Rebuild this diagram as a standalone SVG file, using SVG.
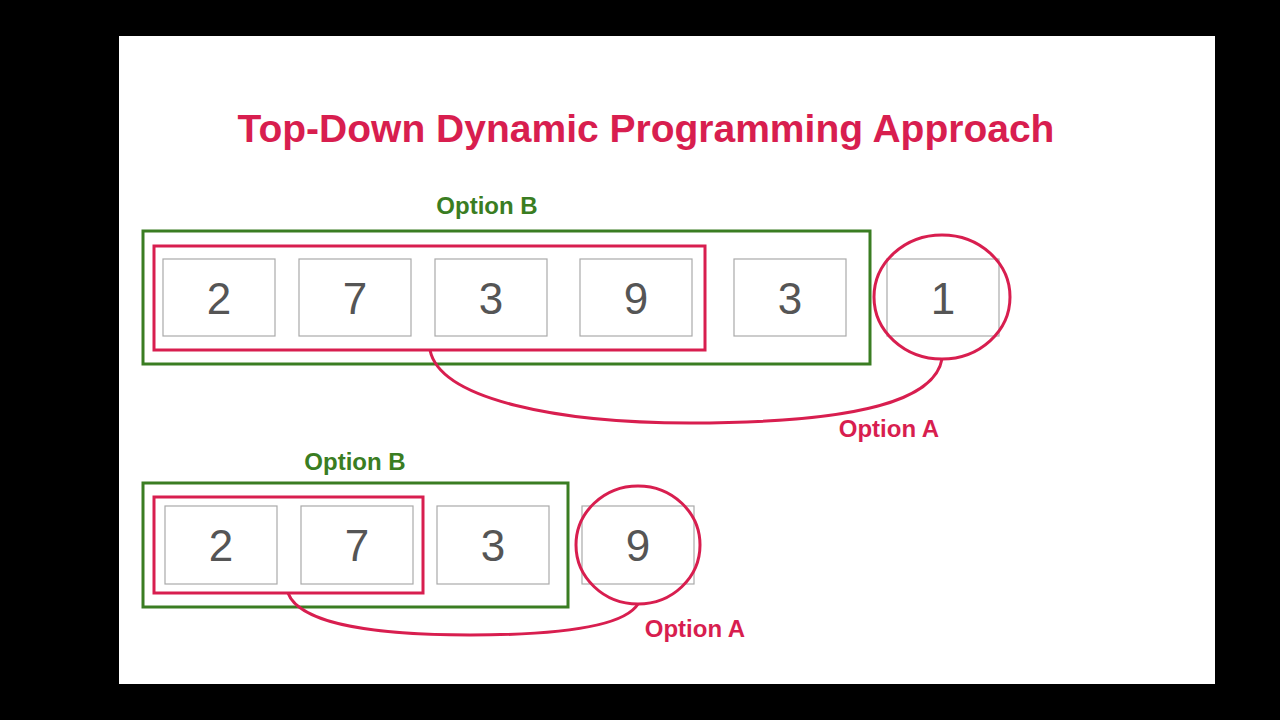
<svg xmlns="http://www.w3.org/2000/svg" width="1280" height="720" viewBox="0 0 1280 720">
<style>
.box{fill:none;stroke:#aaa;stroke-width:1.2}
.num{font-family:"Liberation Sans",Arial,sans-serif;font-size:44px;fill:#555;text-anchor:middle}
.g{fill:none;stroke:#3a7d22;stroke-width:3}
.r{fill:none;stroke:#d81e4f;stroke-width:3}
.lg{font-family:"Liberation Sans",Arial,sans-serif;font-weight:bold;font-size:24px;fill:#3a7d22;text-anchor:middle}
.lr{font-family:"Liberation Sans",Arial,sans-serif;font-weight:bold;font-size:24px;fill:#d81e4f;text-anchor:middle}
</style>
<rect width="1280" height="720" fill="#000"/>
<rect x="119" y="36" width="1096" height="648" fill="#fff"/>
<text x="646" y="142" font-family="Liberation Sans,Arial,sans-serif" font-weight="bold" font-size="39" fill="#d81e4f" text-anchor="middle">Top-Down Dynamic Programming Approach</text>
<g id="top">
<rect class="g" x="143" y="231" width="727" height="133"/>
<rect class="r" x="154" y="246" width="551" height="104"/>
<g id="t1"><rect class="box" x="163" y="259" width="112" height="77"/><text class="num" x="219" y="314">2</text></g>
<g id="t2"><rect class="box" x="299" y="259" width="112" height="77"/><text class="num" x="355" y="314">7</text></g>
<g id="t3"><rect class="box" x="435" y="259" width="112" height="77"/><text class="num" x="491" y="314">3</text></g>
<g id="t4"><rect class="box" x="580" y="259" width="112" height="77"/><text class="num" x="636" y="314">9</text></g>
<g id="t5"><rect class="box" x="734" y="259" width="112" height="77"/><text class="num" x="790" y="314">3</text></g>
<g id="t6"><rect class="box" x="887" y="259" width="112" height="77"/><text class="num" x="943" y="314">1</text></g>
<ellipse class="r" cx="942" cy="297" rx="68" ry="62"/>
<text class="lg" x="487" y="214">Option B</text>
<text class="lr" x="889" y="437">Option A</text>
</g>
<g id="bottom">
<rect class="g" x="143" y="483" width="425" height="124"/>
<rect class="r" x="154" y="497" width="269" height="96"/>
<g id="b1"><rect class="box" x="165" y="506" width="112" height="78"/><text class="num" x="221" y="561">2</text></g>
<g id="b2"><rect class="box" x="301" y="506" width="112" height="78"/><text class="num" x="357" y="561">7</text></g>
<g id="b3"><rect class="box" x="437" y="506" width="112" height="78"/><text class="num" x="493" y="561">3</text></g>
<g id="b4"><rect class="box" x="582" y="506" width="112" height="78"/><text class="num" x="638" y="561">9</text></g>
<ellipse class="r" cx="638" cy="545" rx="62" ry="59"/>
<text class="lg" x="355" y="470">Option B</text>
<text class="lr" x="695" y="637">Option A</text>
</g>
<g id="connectors">
<path class="r" d="M430,350 C440,400 560,423 690,423 C860,423 935,400 942,359"/>
<path class="r" d="M288,593 C300,625 380,635 470,635 C570,635 625,625 638,604"/>
</g>
</svg>
